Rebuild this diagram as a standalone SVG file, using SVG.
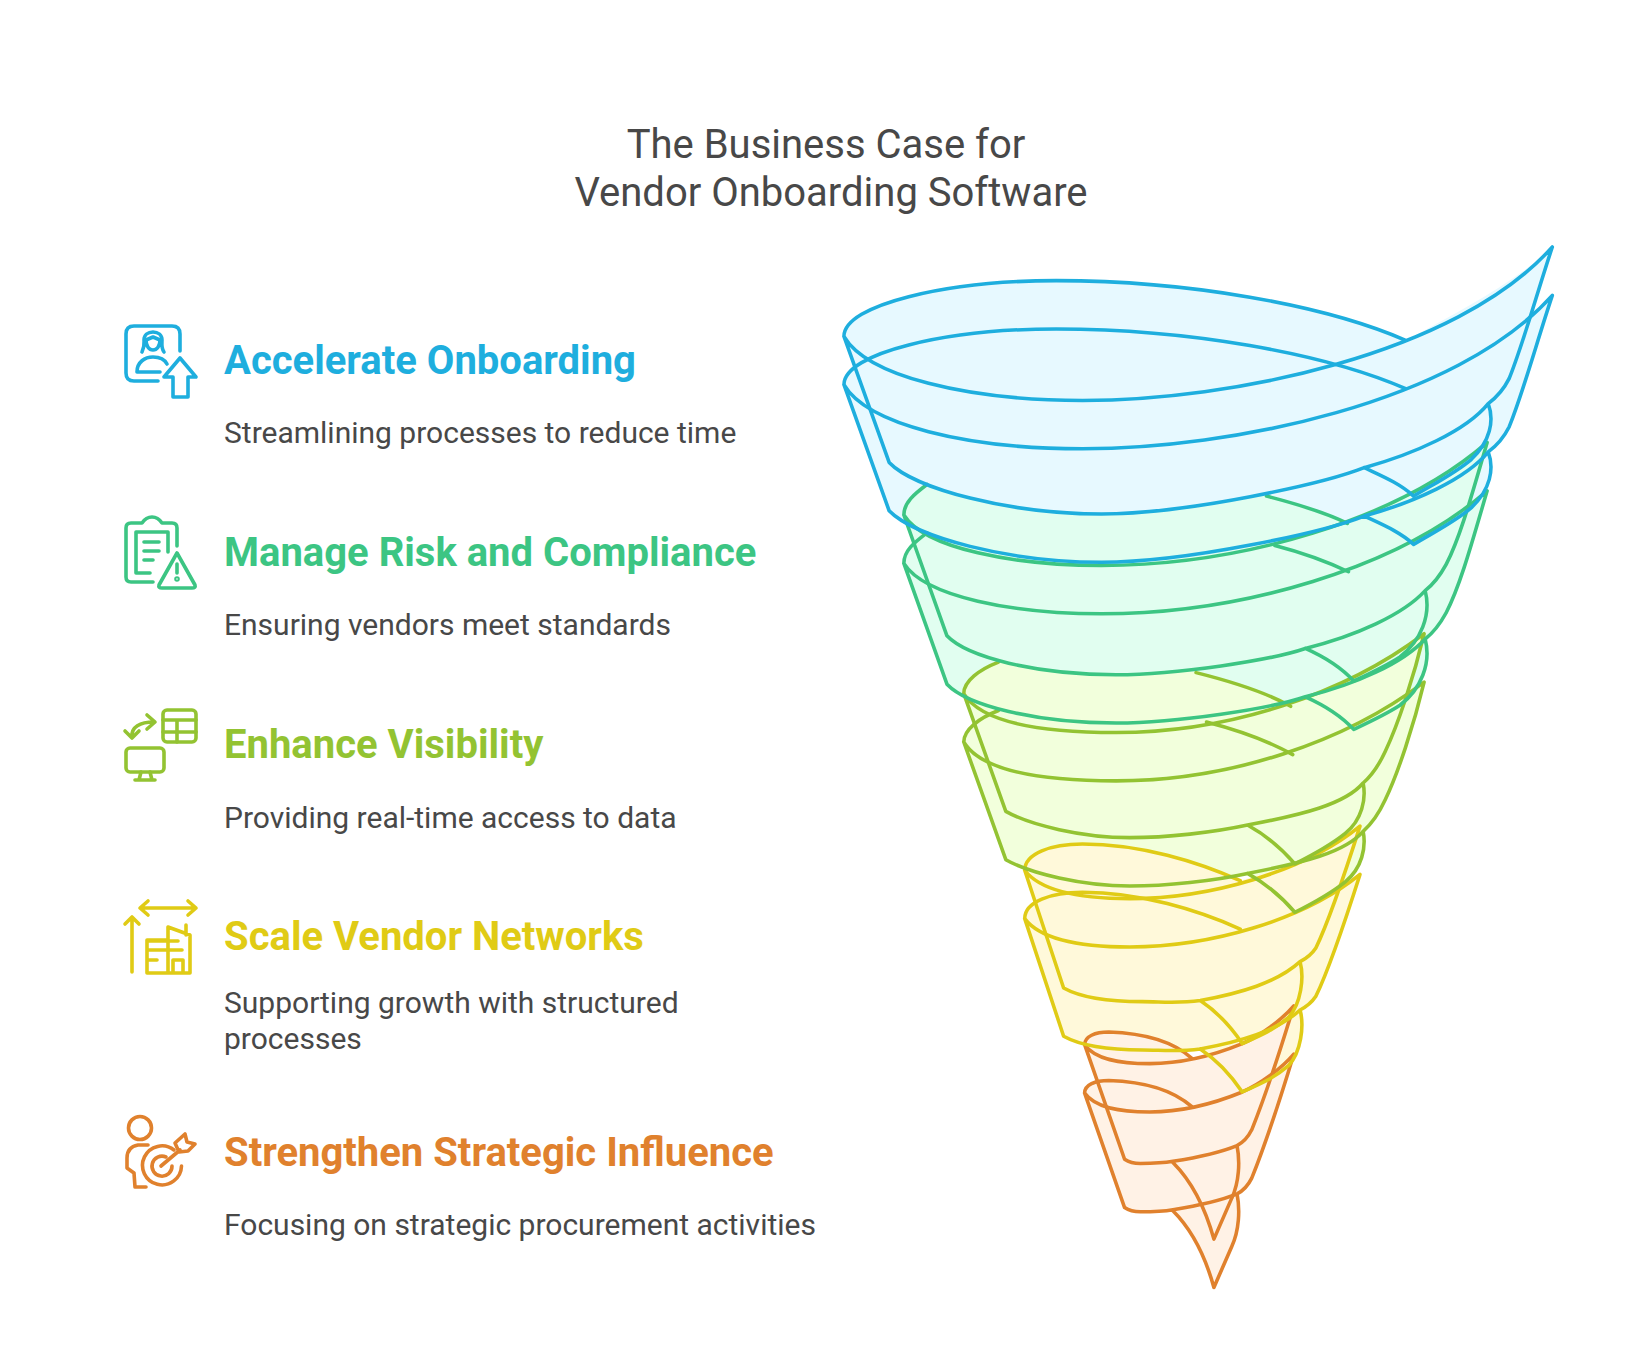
<svg xmlns="http://www.w3.org/2000/svg" xmlns:xlink="http://www.w3.org/1999/xlink" width="1648" height="1348" viewBox="0 0 1648 1348">
<style>
text{font-family:Roboto,"Liberation Sans",sans-serif}
.t{font-size:40px;fill:#484848;text-anchor:middle}
.h{font-size:40px;font-weight:700}
.b{font-size:30px;fill:#484848}
.ln{fill:none;stroke-width:3.4;stroke-linecap:round;stroke-linejoin:round}
.ic{fill:none;stroke-width:3.6;stroke-linecap:round;stroke-linejoin:round}
.c1{stroke:#1eaede}.c2{stroke:#3cc583}.c3{stroke:#93c332}.c4{stroke:#e0cb15}.c5{stroke:#e0812d}
.f1{fill:#e7f9ff}.f2{fill:#e1fef0}.f3{fill:#f2ffdc}.f4{fill:#fff9da}.f5{fill:#fff2e6}
</style>
<defs>
<path id="f1" d="M803,320 C803,290 900,267 1005,267 C1130,267 1260,290 1338,324 C1390,295 1440,270 1477,235 C1462,280 1450,325 1436,360 C1430,372 1424,378 1416,384 C1422,400 1418,420 1400,437 C1385,450 1365,460 1345,472 C1332,460 1315,453 1298,445 C1260,460 1130,489 1048,489 C960,489 870,465 846,440 Z"/>
<path id="f2" d="M860,490 C860,472 890,445 1010,445 C1090,445 1160,455 1205,472 C1235,480 1260,488 1282,498 C1330,475 1380,450 1415,421 C1402,465 1390,510 1376,537 C1370,548 1365,555 1356,562 C1362,585 1352,610 1332,625 C1320,633 1305,640 1288,648 C1276,635 1260,625 1242,617 C1210,628 1120,642 1062,642 C985,642 920,625 901,605 Z"/>
<path id="f3" d="M917,660 C917,645 932,635 948,630 C990,615 1070,620 1138,640 C1170,650 1205,660 1228,670 C1275,650 1320,630 1355,603 C1345,645 1330,690 1318,715 C1312,728 1305,738 1297,745 C1300,760 1296,780 1280,793 C1265,805 1250,813 1232,822 C1220,808 1205,795 1187,785 C1155,792 1110,797 1075,797 C1030,797 980,785 957,772 Z"/>
<path id="f4" d="M975,828 C975,812 1000,803 1030,803 C1085,803 1140,820 1180,838 C1225,825 1265,810 1294,786 C1280,830 1265,875 1252,902 C1248,908 1243,912 1237,915 C1241,930 1238,955 1226,968 C1212,980 1200,985 1182,993 C1170,975 1157,962 1142,952 C1120,955 1105,953 1087,953 C1055,953 1030,950 1012,940 Z"/>
<path id="f5" d="M1032,994 C1032,986 1042,982 1055,982 C1085,983 1115,990 1134,1007 C1160,1002 1210,985 1231,957 C1218,1000 1205,1040 1191,1075 C1187,1083 1183,1087 1177,1090 C1180,1105 1179,1125 1172,1140 L1155,1179 C1147,1150 1135,1125 1116,1106 C1105,1107 1095,1107 1085,1107 C1078,1107 1073,1105 1070,1103 Z"/>
<path id="s1" d="M803,320 C803,290 900,267 1005,267 C1130,267 1260,290 1338,324 M803,320 C825,358 920,381 1030,381 C1170,381 1385,338 1477,235 C1462,280 1450,325 1436,360 C1430,372 1424,378 1416,384 C1395,410 1345,432 1298,445 C1260,460 1130,489 1048,489 C960,489 870,465 846,440 L803,320 M1416,384 C1422,400 1418,420 1400,437 C1385,450 1365,460 1345,472 C1332,460 1315,453 1298,445"/>
<path id="s2" d="M860,490 C860,478 870,470 882,461 M860,490 C880,522 965,538 1048,538 C1180,538 1330,495 1415,421 C1402,465 1390,510 1376,537 C1370,548 1365,555 1356,562 C1335,585 1290,605 1242,617 C1210,628 1120,642 1062,642 C985,642 920,625 901,605 L860,490 M1356,562 C1362,585 1352,610 1332,625 C1320,633 1305,640 1288,648 C1276,635 1260,625 1242,617"/>
<path id="s3" d="M917,660 C917,648 932,637 950,630 M917,660 C935,690 1000,697 1062,697 C1170,697 1280,660 1355,603 C1345,645 1330,690 1318,715 C1312,728 1305,738 1297,745 C1280,765 1240,775 1187,785 C1155,792 1110,797 1075,797 C1030,797 980,785 957,772 L917,660 M1297,745 C1300,760 1296,780 1280,793 C1265,805 1250,813 1232,822 C1220,808 1205,795 1187,785"/>
<path id="s4" d="M975,828 C975,812 1000,803 1030,803 C1085,803 1140,820 1180,838 M975,828 C990,848 1030,855 1075,855 C1150,855 1240,830 1294,786 C1280,830 1265,875 1252,902 C1248,908 1243,912 1237,915 C1215,935 1180,945 1142,952 C1120,955 1105,953 1087,953 C1055,953 1030,950 1012,940 L975,828 M1237,915 C1241,930 1238,955 1226,968 C1212,980 1200,985 1182,993 C1170,975 1157,962 1142,952"/>
<path id="s5" d="M1032,994 C1032,986 1042,982 1055,982 C1085,983 1115,990 1134,1007 M1032,994 C1042,1008 1065,1012 1094,1012 C1130,1012 1160,1002 1182,993 C1200,985 1220,970 1231,957 C1218,1000 1205,1040 1191,1075 C1187,1083 1183,1087 1177,1090 C1160,1097 1135,1102 1116,1105 C1105,1107 1095,1107 1085,1107 C1078,1107 1073,1105 1070,1103 L1032,994 M1177,1090 C1180,1105 1179,1125 1172,1140 L1155,1179 C1147,1150 1135,1125 1116,1106"/>
</defs>
<rect width="1648" height="1348" fill="#fff"/>
<g id="title"><text class="t" x="826" y="158">The Business Case for</text><text class="t" x="831" y="206">Vendor Onboarding Software</text></g>
<g id="funnel" transform="scale(1.051)">
<g id="funnel-fills">
<use href="#f1" class="f1" y="46"/><use href="#f2" class="f2" y="46"/><use href="#f3" class="f3" y="46"/><use href="#f4" class="f4" y="46"/><use href="#f5" class="f5" y="46"/>
<use href="#f5" class="f5"/><use href="#f4" class="f4"/><use href="#f3" class="f3"/><use href="#f2" class="f2"/><use href="#f1" class="f1"/>
</g>
<g id="funnel-lines" class="ln">
<g class="ln c5"><use href="#s5"/><use href="#s5" y="46"/></g>
<g class="ln c4"><use href="#s4"/><use href="#s4" y="46"/></g>
<g class="ln c3"><use href="#s3"/><use href="#s3" y="46"/><path d="M1138,640 C1170,648 1203,658 1228,672 M1148,687 C1175,694 1205,704 1230,718"/></g>
<g class="ln c2"><use href="#s2"/><use href="#s2" y="46"/><path d="M1205,472 C1232,479 1260,487 1282,498 M1213,519 C1240,526 1262,534 1283,544"/></g>
<g class="ln c1"><use href="#s1"/><use href="#s1" y="46"/></g>
</g>
</g>
<g id="item1">
<text class="h" x="224" y="374" fill="#1eaede">Accelerate Onboarding</text>
<text class="b" x="224" y="443">Streamlining processes to reduce time</text>
<g class="ic c1"><path d="M180,351 V334 Q180,326 172,326 H134 Q126,326 126,334 V373 Q126,381 134,381 H158"/><path d="M180,358 L196,377 H188 V397 H173 V377 H164 Z"/><path d="M142,352 C145,346 144,342 144,340 C144,335 148,332 153,332 C158,332 162,335 162,340 C162,343 161,348 164,352 M146,340 L153,337 L160,340 C160,346 157,350 153,350 C149,350 146,346 146,340 M137,372 C137,362 145,357 153,357 C160,357 165,360 167,364 M137,372 H160"/></g>
</g>
<g id="item2">
<text class="h" x="224" y="566" fill="#3cc583">Manage Risk and Compliance</text>
<text class="b" x="224" y="635">Ensuring vendors meet standards</text>
<g class="ic c2"><path d="M177,546 V528 Q177,523 172,523 H162 Q158,517 152,517 Q146,517 142,523 H131 Q126,523 126,528 V577 Q126,582 131,582 H153"/><path d="M168,552 V532 H136 V573 H150"/><path d="M144,542 H159 M144,551 H159 M144,560 H153"/><path d="M177,553 L195,585 Q196,588 192,588 H162 Q158,588 159,585 Z"/><path d="M177,564 V573"/><circle cx="177" cy="579" r="1"/></g>
</g>
<g id="item3">
<text class="h" x="224" y="758" fill="#93c332">Enhance Visibility</text>
<text class="b" x="224" y="828">Providing real-time access to data</text>
<g class="ic c3"><rect x="163" y="710" width="33" height="32" rx="4"/><path d="M163,720 H196 M163,732 H196 M177,720 V742"/><rect x="126" y="748" width="38" height="24" rx="4"/><path d="M141,772 L139,780 M150,772 L152,780 M135,780 H155"/><path d="M132,737 C131,727 140,722 154,722 M147,715 L155,722 L147,729 M125,731 L132,738 L139,731"/></g>
</g>
<g id="item4">
<text class="h" x="224" y="950" fill="#e0cb15">Scale Vendor Networks</text>
<text class="b" x="224" y="1013">Supporting growth with structured</text>
<text class="b" x="224" y="1049">processes</text>
<g class="ic c4"><path d="M141,908 H196 M148,901 L140,908 L148,915 M188,901 L196,908 L188,915"/><path d="M132,972 V917 M125,924 L132,917 L139,924"/><path d="M168,940 H147 V973 H190 V935 L168,927 V973 M186,925 V935 M147,941 H178 M147,950 H182 M147,960 H157 M173,973 V960 H183 V973"/></g>
</g>
<g id="item5">
<text class="h" x="224" y="1166" fill="#e0812d">Strengthen Strategic Influence</text>
<text class="b" x="224" y="1235">Focusing on strategic procurement activities</text>
<g class="ic c5"><circle cx="140" cy="1128" r="11.5"/><path d="M148,1145 H138 Q127,1147 127,1158 V1168 L134,1173 L135,1187 H146"/><path d="M174,1150 A19.500,19.500 0 1 0 181.500,1166"/><path d="M166,1157 A10,10 0 1 0 172,1166"/><path d="M161,1166 L180,1150 M175,1143 L185,1134 L187,1142 L195,1144 L188,1151 L179,1152 Z"/></g>
</g>
</svg>
